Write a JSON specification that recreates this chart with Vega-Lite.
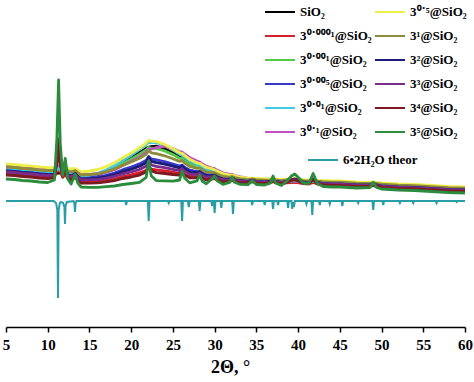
{
  "$schema": "https://vega.github.io/schema/vega-lite/v6.json",
  "width": 459,
  "height": 322,
  "autosize": "none",
  "padding": {"left": 6, "top": 5, "right": 9, "bottom": 55},
  "config": {
    "view": {"stroke": null},
    "legend": {
      "title": null,
      "symbolType": "stroke",
      "symbolSize": 900,
      "symbolStrokeWidth": 2,
      "labelFont": "Liberation Serif",
      "labelFontWeight": "bold",
      "labelFontSize": 13,
      "labelColor": "black",
      "clipHeight": 20,
      "rowPadding": 4,
      "columnPadding": 2,
      "labelOffset": 4,
      "padding": 0
    }
  },
  "datasets": {
    "xrd": [
      {"x":5,"k0":158,"k1":153,"k2":159,"k3":157,"k4":159,"k5":161,"k6":163,"k7":160,"k8":156,"k9":155,"k10":152,"k11":148},
      {"x":6,"k0":157.5,"k1":152.5,"k2":158.5,"k3":156.5,"k4":158.5,"k5":160.5,"k6":162.5,"k7":159.5,"k8":155.5,"k9":154.5,"k10":151.5,"k11":147.5},
      {"x":7,"k0":156.5,"k1":151.5,"k2":157.5,"k3":155.5,"k4":157.5,"k5":159.5,"k6":161.5,"k7":158.5,"k8":154.5,"k9":153.5,"k10":150.5,"k11":146.5},
      {"x":8,"k0":156,"k1":151,"k2":157,"k3":155,"k4":157,"k5":159,"k6":161,"k7":158,"k8":154,"k9":153,"k10":150,"k11":146},
      {"x":9,"k0":155,"k1":150,"k2":156,"k3":154,"k4":156,"k5":158,"k6":160,"k7":157,"k8":153,"k9":152,"k10":149,"k11":145},
      {"x":10,"k0":154.5,"k1":149.5,"k2":155.5,"k3":153.5,"k4":155.5,"k5":157.5,"k6":159.5,"k7":156.5,"k8":152.5,"k9":151.5,"k10":148.5,"k11":144.5},
      {"x":10.8,"k0":154,"k1":149.5,"k2":155.3,"k3":153.6,"k4":155.2,"k5":157.3,"k6":159.3,"k7":156.6,"k8":152.9,"k9":151.9,"k10":149.2,"k11":147},
      {"x":11.1,"k0":154,"k1":155.8,"k2":159.5,"k3":162,"k4":157.3,"k5":161.5,"k6":163.5,"k7":165,"k8":165.5,"k9":164.5,"k10":166,"k11":189},
      {"x":11.3,"k0":154,"k1":164,"k2":165,"k3":173,"k4":160,"k5":167,"k6":169,"k7":176,"k8":182,"k9":181,"k10":188,"k11":247},
      {"x":11.5,"k0":154,"k1":155,"k2":159,"k3":161,"k4":157,"k5":161,"k6":163,"k7":164,"k8":164,"k9":163,"k10":164,"k11":184},
      {"x":11.8,"k0":153.5,"k1":149.7,"k2":155.3,"k3":154.1,"k4":154.9,"k5":157.3,"k6":159.3,"k7":157.1,"k8":153.9,"k9":152.9,"k10":150.7,"k11":151.5},
      {"x":12.1,"k0":153.5,"k1":152.3,"k2":157,"k3":157.5,"k4":155.8,"k5":159,"k6":161,"k7":160.5,"k8":159,"k9":158,"k10":157.5,"k11":168.5},
      {"x":12.4,"k0":153,"k1":148.8,"k2":154.5,"k3":153,"k4":154.3,"k5":156.5,"k6":158.5,"k7":156,"k8":152.5,"k9":151.5,"k10":149,"k11":148},
      {"x":12.8,"k0":153,"k1":148,"k2":154,"k3":152,"k4":154,"k5":156,"k6":158,"k7":155,"k8":151,"k9":150,"k10":147,"k11":143},
      {"x":13.3,"k0":152.5,"k1":149,"k2":154.5,"k3":153.5,"k4":154,"k5":156.5,"k6":158.5,"k7":156.5,"k8":153.5,"k9":152.5,"k10":150.5,"k11":152.5},
      {"x":13.6,"k0":152,"k1":147.3,"k2":153.2,"k3":151.4,"k4":153.1,"k5":155,"k6":157,"k7":154.4,"k8":150.6,"k9":149.6,"k10":146.8,"k11":144},
      {"x":14,"k0":150,"k1":145,"k2":151,"k3":149,"k4":151,"k5":153,"k6":155,"k7":152,"k8":148,"k9":147,"k10":144,"k11":140},
      {"x":15,"k0":150.8,"k1":145,"k2":151.7,"k3":149.3,"k4":151.9,"k5":152.5,"k6":156,"k7":152.5,"k8":148.2,"k9":147.1,"k10":143.9,"k11":139.7},
      {"x":16,"k0":152.3,"k1":145.3,"k2":153,"k3":150,"k4":153.6,"k5":153,"k6":157.5,"k7":153.4,"k8":148.8,"k9":147.5,"k10":144.1,"k11":139.6},
      {"x":17,"k0":155.3,"k1":146.5,"k2":155.7,"k3":151.7,"k4":156.9,"k5":154.7,"k6":160.3,"k7":155.4,"k8":150.4,"k9":148.8,"k10":145.1,"k11":140.3},
      {"x":18,"k0":159.2,"k1":148,"k2":159.2,"k3":154,"k4":161.2,"k5":157.3,"k6":164.2,"k7":158.1,"k8":152.4,"k9":150.6,"k10":146.4,"k11":141},
      {"x":19,"k0":164.3,"k1":150.3,"k2":163.8,"k3":157.3,"k4":166.7,"k5":161.4,"k6":169.3,"k7":161.8,"k8":155.4,"k9":153.1,"k10":148.5,"k11":142.5},
      {"x":20,"k0":169,"k1":152.2,"k2":168,"k3":160,"k4":171.8,"k5":165.7,"k6":173.9,"k7":165,"k8":157.8,"k9":155.2,"k10":150,"k11":143.5},
      {"x":21,"k0":174.3,"k1":154.3,"k2":172.8,"k3":163.1,"k4":177.6,"k5":169.9,"k6":179.2,"k7":168.8,"k8":160.7,"k9":157.5,"k10":151.9,"k11":144.6},
      {"x":21.8,"k0":178.7,"k1":156.8,"k2":177.1,"k3":166.7,"k4":182.5,"k5":174.7,"k6":184,"k7":172.7,"k8":164.4,"k9":160.9,"k10":155.1,"k11":149.7},
      {"x":22.1,"k0":179.8,"k1":159.7,"k2":179.7,"k3":170.5,"k4":184.5,"k5":177.8,"k6":186.6,"k7":176.7,"k8":169.8,"k9":166.2,"k10":162,"k11":166.1},
      {"x":22.4,"k0":180.4,"k1":157.8,"k2":178.8,"k3":168,"k4":184.5,"k5":178,"k6":185.8,"k7":174.2,"k8":165.7,"k9":162,"k10":156.3,"k11":151.3},
      {"x":23,"k0":180.8,"k1":157.1,"k2":178.5,"k3":167.1,"k4":184.5,"k5":179.5,"k6":185.5,"k7":173.3,"k8":164.3,"k9":160.6,"k10":154.4,"k11":146.4},
      {"x":24,"k0":178.2,"k1":156.1,"k2":176.1,"k3":165.4,"k4":181.7,"k5":180.6,"k6":182.6,"k7":171.2,"k8":162.8,"k9":159.4,"k10":153.5,"k11":146.1},
      {"x":25,"k0":174.1,"k1":154.8,"k2":172.4,"k3":163,"k4":177.2,"k5":178.5,"k6":178.2,"k7":168.2,"k8":160.8,"k9":157.7,"k10":152.5,"k11":145.9},
      {"x":25.8,"k0":170.1,"k1":153.4,"k2":168.8,"k3":160.9,"k4":172.8,"k5":175.2,"k6":174.2,"k7":165.6,"k8":159,"k9":156.4,"k10":151.9,"k11":147},
      {"x":26.1,"k0":168.8,"k1":154.4,"k2":168.6,"k3":161.9,"k4":172,"k5":175,"k6":173.7,"k7":166.4,"k8":161.1,"k9":158.6,"k10":155.2,"k11":155.9},
      {"x":26.4,"k0":167.5,"k1":152.8,"k2":166.7,"k3":159.8,"k4":170.2,"k5":173,"k6":171.6,"k7":164,"k8":158.4,"k9":155.9,"k10":152,"k11":148.9},
      {"x":27,"k0":164.2,"k1":150.9,"k2":163.2,"k3":156.9,"k4":166.3,"k5":169.5,"k6":167.7,"k7":160.7,"k8":155.3,"k9":153.1,"k10":149.2,"k11":144.2},
      {"x":27.9,"k0":160.7,"k1":150.1,"k2":160.3,"k3":155.3,"k4":162.7,"k5":166,"k6":164.1,"k7":158.5,"k8":154.1,"k9":152.4,"k10":149.2,"k11":146.2},
      {"x":28.2,"k0":159.7,"k1":150.6,"k2":160,"k3":155.9,"k4":161.9,"k5":165.2,"k6":163.7,"k7":159,"k8":155.3,"k9":153.7,"k10":151.3,"k11":152},
      {"x":28.5,"k0":158.9,"k1":149.5,"k2":158.5,"k3":154.2,"k4":160.5,"k5":163.4,"k6":162.1,"k7":157.2,"k8":153.1,"k9":151.6,"k10":148.8,"k11":146},
      {"x":29,"k0":156.7,"k1":148.1,"k2":156.4,"k3":152.3,"k4":158.2,"k5":160.8,"k6":159.7,"k7":155.1,"k8":151.2,"k9":149.8,"k10":147,"k11":143.3},
      {"x":29.7,"k0":154.5,"k1":148.2,"k2":154.9,"k3":152,"k4":156.1,"k5":159,"k6":158.3,"k7":154.5,"k8":151.5,"k9":150.4,"k10":148.4,"k11":148.2},
      {"x":30,"k0":153.6,"k1":148.3,"k2":154.3,"k3":152.1,"k4":155.1,"k5":158.3,"k6":157.1,"k7":154.4,"k8":152,"k9":150.9,"k10":149.4,"k11":151.2},
      {"x":30.3,"k0":152.9,"k1":147.3,"k2":153.2,"k3":150.7,"k4":154.2,"k5":156.9,"k6":155.9,"k7":152.9,"k8":150.1,"k9":149.1,"k10":147.2,"k11":146.1},
      {"x":31,"k0":150.9,"k1":145.9,"k2":151,"k3":148.7,"k4":151.8,"k5":154.2,"k6":153.4,"k7":150.7,"k8":147.9,"k9":147.2,"k10":145.1,"k11":142.6},
      {"x":31.8,"k0":149.3,"k1":145.7,"k2":149.8,"k3":148.2,"k4":150.2,"k5":152.6,"k6":151.9,"k7":149.9,"k8":147.8,"k9":147.1,"k10":145.6,"k11":144.6},
      {"x":32.1,"k0":148.8,"k1":146.4,"k2":149.9,"k3":149,"k4":149.9,"k5":152.7,"k6":151.9,"k7":150.6,"k8":149.1,"k9":148.5,"k10":147.5,"k11":149.6},
      {"x":32.4,"k0":148.6,"k1":145.6,"k2":149.1,"k3":147.9,"k4":149.3,"k5":151.4,"k6":151.1,"k7":149.4,"k8":147.5,"k9":146.9,"k10":145.6,"k11":144.7},
      {"x":33,"k0":147.8,"k1":145.1,"k2":148.2,"k3":147,"k4":148.4,"k5":150.3,"k6":150,"k7":148.4,"k8":146.5,"k9":146.1,"k10":144.6,"k11":142.7},
      {"x":34,"k0":146.4,"k1":144.4,"k2":146.9,"k3":146,"k4":146.9,"k5":148.6,"k6":148.5,"k7":147.3,"k8":145.6,"k9":145.2,"k10":144,"k11":142.3},
      {"x":34.5,"k0":146.5,"k1":145.1,"k2":147.3,"k3":146.9,"k4":147.1,"k5":148.6,"k6":148.9,"k7":148.1,"k8":146.9,"k9":146.5,"k10":145.7,"k11":146.5},
      {"x":35,"k0":146.5,"k1":144.5,"k2":146.9,"k3":146.1,"k4":146.9,"k5":147.7,"k6":148.5,"k7":147.3,"k8":145.7,"k9":145.3,"k10":144.1,"k11":142.5},
      {"x":36,"k0":146,"k1":144,"k2":146.4,"k3":145.6,"k4":146.4,"k5":147.2,"k6":148,"k7":146.8,"k8":145.2,"k9":144.8,"k10":143.6,"k11":142},
      {"x":36.7,"k0":146,"k1":144.3,"k2":146.6,"k3":146,"k4":146.5,"k5":147.4,"k6":148.2,"k7":147.2,"k8":145.8,"k9":145.4,"k10":144.4,"k11":144},
      {"x":37,"k0":146,"k1":145.4,"k2":147.3,"k3":147.4,"k4":146.9,"k5":148.1,"k6":148.9,"k7":148.6,"k8":147.9,"k9":147.5,"k10":147.2,"k11":151},
      {"x":37.3,"k0":146,"k1":144.3,"k2":146.6,"k3":146,"k4":146.5,"k5":147.4,"k6":148.2,"k7":147.2,"k8":145.8,"k9":145.4,"k10":144.4,"k11":144},
      {"x":38,"k0":145.5,"k1":143.5,"k2":145.9,"k3":145.1,"k4":145.9,"k5":146.7,"k6":147.5,"k7":146.3,"k8":144.7,"k9":144.3,"k10":143.1,"k11":141.5},
      {"x":38.6,"k0":145.5,"k1":144.1,"k2":146.3,"k3":145.9,"k4":146.1,"k5":147.1,"k6":147.9,"k7":147.1,"k8":145.9,"k9":145.5,"k10":144.7,"k11":145.5},
      {"x":39.2,"k0":145,"k1":144.5,"k2":146.4,"k3":146.6,"k4":145.9,"k5":147.2,"k6":148,"k7":147.8,"k8":147.2,"k9":146.8,"k10":146.6,"k11":151},
      {"x":39.6,"k0":145,"k1":144.8,"k2":146.6,"k3":147,"k4":146,"k5":147.4,"k6":148.2,"k7":148.2,"k8":147.8,"k9":147.4,"k10":147.4,"k11":153},
      {"x":40.1,"k0":145,"k1":144.2,"k2":146.2,"k3":146.2,"k4":145.8,"k5":147,"k6":147.8,"k7":147.4,"k8":146.6,"k9":146.2,"k10":145.8,"k11":149},
      {"x":40.6,"k0":145,"k1":143.5,"k2":145.7,"k3":145.2,"k4":145.6,"k5":146.5,"k6":147.3,"k7":146.4,"k8":145.1,"k9":144.7,"k10":143.8,"k11":144},
      {"x":41.3,"k0":144.5,"k1":143,"k2":145.2,"k3":144.7,"k4":145.1,"k5":146,"k6":146.8,"k7":145.9,"k8":144.6,"k9":144.2,"k10":143.3,"k11":143.5},
      {"x":41.8,"k0":144.5,"k1":144.5,"k2":146.2,"k3":146.7,"k4":145.6,"k5":147,"k6":147.8,"k7":147.9,"k8":147.6,"k9":147.2,"k10":147.3,"k11":153.5},
      {"x":42.3,"k0":144.5,"k1":143,"k2":145.2,"k3":144.7,"k4":145.1,"k5":146,"k6":146.8,"k7":145.9,"k8":144.6,"k9":144.2,"k10":143.3,"k11":143.5},
      {"x":43,"k0":144.5,"k1":142.5,"k2":144.9,"k3":144.1,"k4":144.9,"k5":145.7,"k6":146.5,"k7":145.3,"k8":143.7,"k9":143.3,"k10":142.1,"k11":140.5},
      {"x":44,"k0":144,"k1":142,"k2":144.4,"k3":143.6,"k4":144.4,"k5":145.2,"k6":146,"k7":144.8,"k8":143.2,"k9":142.8,"k10":141.6,"k11":140},
      {"x":45,"k0":144,"k1":142,"k2":144.4,"k3":143.6,"k4":144.4,"k5":145.2,"k6":146,"k7":144.8,"k8":143.2,"k9":142.8,"k10":141.6,"k11":140},
      {"x":46,"k0":143.5,"k1":141.5,"k2":143.9,"k3":143.1,"k4":143.9,"k5":144.7,"k6":145.5,"k7":144.3,"k8":142.7,"k9":142.3,"k10":141.1,"k11":139.5},
      {"x":47,"k0":143,"k1":141,"k2":143.4,"k3":142.6,"k4":143.4,"k5":144.2,"k6":145,"k7":143.8,"k8":142.2,"k9":141.8,"k10":140.6,"k11":139},
      {"x":48.6,"k0":142.5,"k1":140.7,"k2":143,"k3":142.3,"k4":143,"k5":143.8,"k6":144.6,"k7":143.5,"k8":142,"k9":141.6,"k10":140.5,"k11":139.5},
      {"x":49,"k0":142.5,"k1":141.4,"k2":143.5,"k3":143.3,"k4":143.2,"k5":144.3,"k6":145.1,"k7":144.5,"k8":143.5,"k9":143.1,"k10":142.5,"k11":144.5},
      {"x":49.4,"k0":142.5,"k1":140.7,"k2":143,"k3":142.3,"k4":143,"k5":143.8,"k6":144.6,"k7":143.5,"k8":142,"k9":141.6,"k10":140.5,"k11":139.5},
      {"x":50,"k0":142,"k1":140,"k2":142.4,"k3":141.6,"k4":142.4,"k5":143.2,"k6":144,"k7":142.8,"k8":141.2,"k9":140.8,"k10":139.6,"k11":138},
      {"x":52,"k0":141,"k1":139,"k2":141.4,"k3":140.6,"k4":141.4,"k5":142.2,"k6":143,"k7":141.8,"k8":140.2,"k9":139.8,"k10":138.6,"k11":137},
      {"x":54,"k0":140.5,"k1":138.5,"k2":140.9,"k3":140.1,"k4":140.9,"k5":141.7,"k6":142.5,"k7":141.3,"k8":139.7,"k9":139.3,"k10":138.1,"k11":136.5},
      {"x":56,"k0":139.5,"k1":137.5,"k2":139.9,"k3":139.1,"k4":139.9,"k5":140.7,"k6":141.5,"k7":140.3,"k8":138.7,"k9":138.3,"k10":137.1,"k11":135.5},
      {"x":58,"k0":138.5,"k1":136.5,"k2":138.9,"k3":138.1,"k4":138.9,"k5":139.7,"k6":140.5,"k7":139.3,"k8":137.7,"k9":137.3,"k10":136.1,"k11":134.5},
      {"x":60,"k0":138,"k1":136,"k2":138.4,"k3":137.6,"k4":138.4,"k5":139.2,"k6":140,"k7":138.8,"k8":137.2,"k9":136.8,"k10":135.6,"k11":134}
    ],
    "theor": [
      {"x":5,"I":126},{"x":10.7,"I":126},{"x":11.0,"I":124},{"x":11.15,"I":117},{"x":11.23,"I":29},{"x":11.31,"I":117},{"x":11.45,"I":124},{"x":11.6,"I":125},{"x":11.85,"I":124},{"x":12.0,"I":120},{"x":12.07,"I":103},{"x":12.14,"I":121},{"x":12.3,"I":125},{"x":13.1,"I":126},{"x":13.2,"I":123},{"x":13.27,"I":115},{"x":13.34,"I":124},{"x":13.45,"I":126},
      {"x":19.3,"I":126},{"x":19.4,"I":122},{"x":19.5,"I":126},
      {"x":22.0,"I":126},{"x":22.1,"I":106},{"x":22.2,"I":126},
      {"x":24.4,"I":126},{"x":24.5,"I":124},{"x":24.6,"I":126},
      {"x":26.0,"I":126},{"x":26.1,"I":106},{"x":26.2,"I":126},
      {"x":26.8,"I":126},{"x":26.9,"I":120},{"x":27.0,"I":126},
      {"x":28.1,"I":126},{"x":28.2,"I":116},{"x":28.3,"I":126},
      {"x":29.6,"I":126},{"x":29.7,"I":121},{"x":29.8,"I":126},{"x":29.9,"I":126},{"x":30.0,"I":114},{"x":30.1,"I":126},
      {"x":30.7,"I":126},{"x":30.8,"I":119},{"x":30.9,"I":126},
      {"x":32.1,"I":126},{"x":32.2,"I":113},{"x":32.3,"I":126},
      {"x":34.4,"I":126},{"x":34.5,"I":122},{"x":34.6,"I":126},
      {"x":35.9,"I":126},{"x":36.0,"I":122},{"x":36.1,"I":126},
      {"x":36.9,"I":126},{"x":37.0,"I":118},{"x":37.1,"I":126},
      {"x":37.5,"I":126},{"x":37.6,"I":122},{"x":37.7,"I":126},
      {"x":38.7,"I":126},{"x":38.8,"I":119},{"x":38.9,"I":126},
      {"x":39.2,"I":126},{"x":39.3,"I":118},{"x":39.4,"I":125},{"x":39.5,"I":120},{"x":39.6,"I":126},
      {"x":40.9,"I":126},{"x":41.0,"I":123},{"x":41.1,"I":126},
      {"x":41.6,"I":126},{"x":41.7,"I":112},{"x":41.8,"I":126},
      {"x":42.5,"I":126},{"x":42.6,"I":122},{"x":42.7,"I":126},
      {"x":43.7,"I":126},{"x":43.8,"I":123},{"x":43.9,"I":126},
      {"x":45.2,"I":126},{"x":45.3,"I":121},{"x":45.4,"I":126},
      {"x":47.1,"I":126},{"x":47.2,"I":124},{"x":47.3,"I":126},
      {"x":48.9,"I":126},{"x":49.0,"I":117},{"x":49.1,"I":126},
      {"x":50.1,"I":126},{"x":50.2,"I":122},{"x":50.3,"I":126},
      {"x":52.1,"I":126},{"x":52.2,"I":124},{"x":52.3,"I":126},
      {"x":53.7,"I":126},{"x":53.8,"I":124},{"x":53.9,"I":126},
      {"x":56.5,"I":126},{"x":56.6,"I":124},{"x":56.7,"I":126},
      {"x":58.9,"I":126},{"x":59.0,"I":125},{"x":59.1,"I":126},
      {"x":60,"I":126}
    ]
  },
  "layer": [
    {
      "data": {"name": "xrd"},
      "transform": [{"fold": ["k0","k1","k2","k3","k4","k5","k6","k7","k8","k9","k10","k11"], "as": ["series","I"]}],
      "mark": {"type": "line", "strokeWidth": 2.8, "strokeJoin": "round"},
      "encoding": {
        "x": {
          "field": "x", "type": "quantitative",
          "scale": {"domain": [5, 60], "nice": false, "zero": false},
          "axis": {
            "values": [5,7.5,10,12.5,15,17.5,20,22.5,25,27.5,30,32.5,35,37.5,40,42.5,45,47.5,50,52.5,55,57.5,60],
            "labelExpr": "datum.value % 5 === 0 ? datum.label : ''",
            "title": "2Θ, °",
            "titleX": 224,
            "grid": false,
            "domainColor": "black", "domainWidth": 1.5,
            "tickColor": "black", "tickWidth": 1.5, "tickSize": 5,
            "labelFont": "Liberation Serif", "labelFontWeight": "bold", "labelFontSize": 15, "labelColor": "black",
            "labelPadding": 5, "labelFlush": false, "labelOverlap": false,
            "titleFont": "Liberation Serif", "titleFontWeight": "bold", "titleFontSize": 18, "titleColor": "black",
            "titlePadding": 6
          }
        },
        "y": {"field": "I", "type": "quantitative", "scale": {"domain": [0, 322], "nice": false, "zero": false}, "axis": null},
        "color": {
          "field": "series", "type": "nominal",
          "scale": {
            "domain": ["k0","k1","k2","k3","k4","k5","k6","k7","k8","k9","k10","k11"],
            "range": ["#000000","#d81e2c","#55c84a","#3a3ac8","#45c8e6","#c052c0","#eeee4a","#8c8c3c","#1c1c7a","#7a2c8c","#7c1a22","#2a8c3c"]
          },
          "legend": {
            "orient": "none", "legendX": 258, "legendY": -3, "columns": 2,
            "labelExpr": "{'k0':'SiO₂','k1':'3⁰˙⁰⁰⁰¹@SiO₂','k2':'3⁰˙⁰⁰¹@SiO₂','k3':'3⁰˙⁰⁰⁵@SiO₂','k4':'3⁰˙⁰¹@SiO₂','k5':'3⁰˙¹@SiO₂','k6':'3⁰˙⁵@SiO₂','k7':'3¹@SiO₂','k8':'3²@SiO₂','k9':'3³@SiO₂','k10':'3⁴@SiO₂','k11':'3⁵@SiO₂'}[datum.label]"
          }
        }
      }
    },
    {
      "data": {"name": "theor"},
      "mark": {"type": "line", "strokeWidth": 2},
      "encoding": {
        "x": {"field": "x", "type": "quantitative"},
        "y": {"field": "I", "type": "quantitative"},
        "color": {
          "datum": "6•2H₂O theor", "type": "nominal",
          "scale": {"range": ["#2a9ea6"]},
          "legend": {"orient": "none", "legendX": 301, "legendY": 145}
        }
      }
    }
  ],
  "resolve": {"scale": {"color": "independent"}}
}
